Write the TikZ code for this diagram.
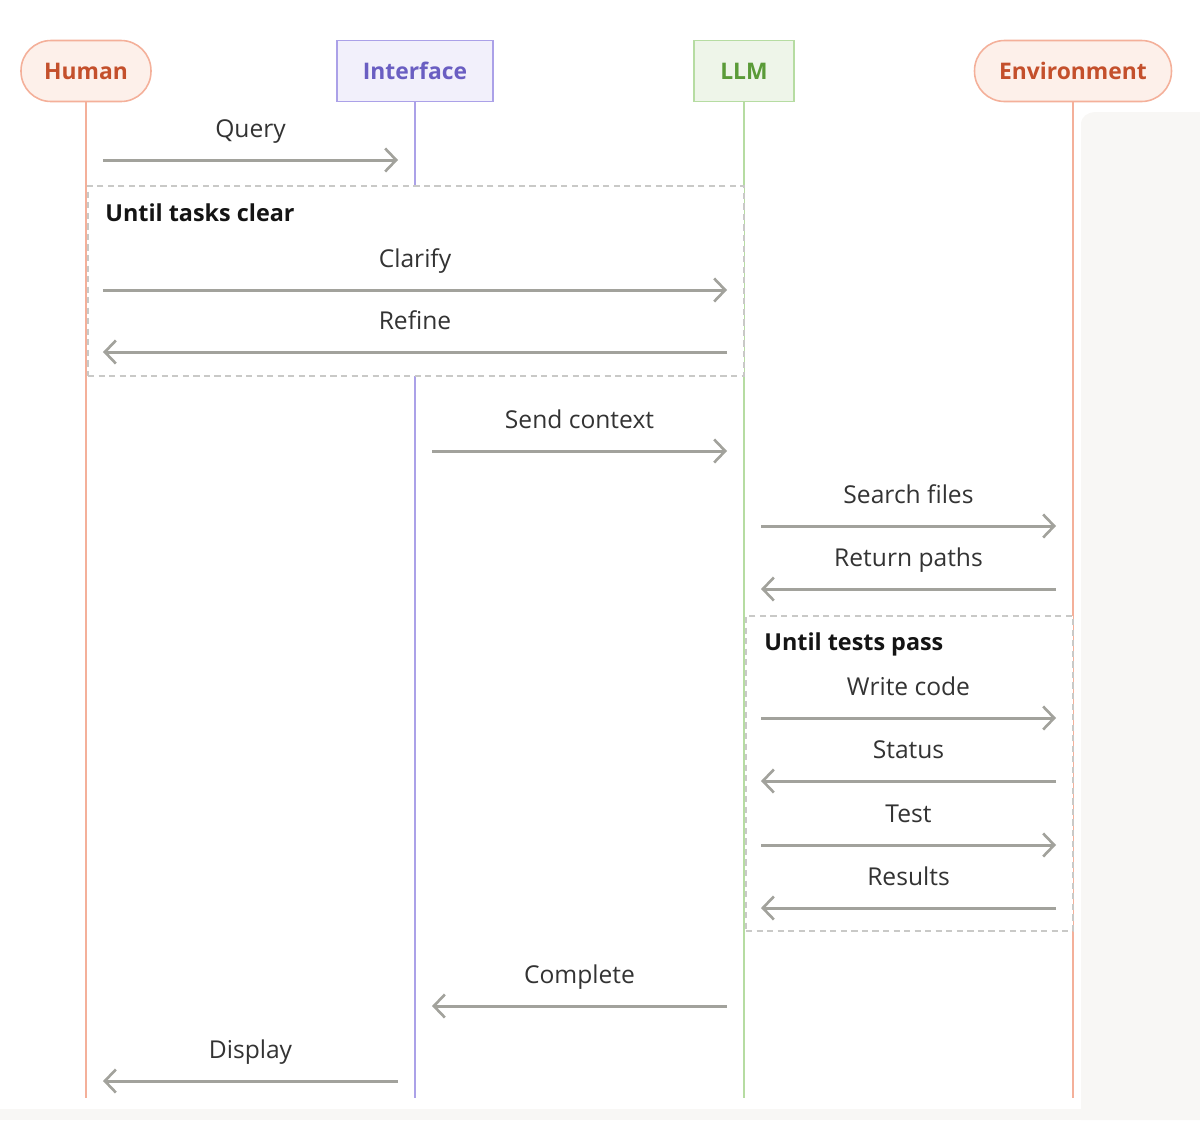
\documentclass[tikz,border=0pt]{standalone}
\usepackage{fontspec}
\setmainfont{Open Sans}[Ligatures=NoCommon]
\usetikzlibrary{arrows.meta,positioning,calc,backgrounds}
\definecolor{humantext}{HTML}{C4502C}
\definecolor{humanfill}{HTML}{FDF0EA}
\definecolor{humanline}{HTML}{F4B09A}
\definecolor{ifacetext}{HTML}{6A5EC2}
\definecolor{ifacefill}{HTML}{F2F0FB}
\definecolor{ifaceline}{HTML}{ABA1E8}
\definecolor{llmtext}{HTML}{5A9B38}
\definecolor{llmfill}{HTML}{EEF5E9}
\definecolor{llmline}{HTML}{B6DCA2}
\definecolor{msggray}{HTML}{A2A29C}
\definecolor{loopgray}{HTML}{C9C9C7}
\definecolor{paper}{HTML}{F8F7F5}
\tikzset{actor/.style={draw,line width=.9pt,minimum height=1.22cm,font=\fontsize{13}{15}\selectfont\bfseries,inner sep=2pt},pill/.style={actor,rounded corners=.6cm},lifeline/.style={line width=.8pt},msg/.style={-{Straight Barb[length=2.2mm,width=4.6mm,line width=1.5pt]},line width=1.7pt,msggray,shorten <=.34cm,shorten >=.34cm},msglabel/.style={midway,anchor=base,yshift=.45cm,text=black!80,font=\fontsize{14}{16}\selectfont},loopbox/.style={draw=loopgray,fill=white,line width=1.1pt,dash pattern=on 3.5pt off 2.5pt},looptitle/.style={anchor=base west,inner sep=0pt,text=black!92,font=\fontsize{13.3}{15}\selectfont\bfseries}}

\begin{document}
\begin{tikzpicture}[x=0.02cm,y=-0.02cm]
\useasboundingbox (0,0) rectangle (1200,1120);
\fill[paper] (1081,1120) -- (1081,124) to[out=90,in=180] (1095,112) -- (1200,112) -- (1200,1120) -- cycle;
\fill[paper] (0,1109) rectangle (1200,1120);
% participants
\node[pill,draw=humanline,fill=humanfill,text=humantext,minimum width=2.6cm] (human) at (86,71) {Human};
\node[actor,draw=ifaceline,fill=ifacefill,text=ifacetext,minimum width=3.12cm] (iface) at (415,71) {Interface};
\node[actor,draw=llmline,fill=llmfill,text=llmtext,minimum width=2cm] (llm) at (744,71) {LLM};
\node[pill,draw=humanline,fill=humanfill,text=humantext,minimum width=3.94cm] (env) at (1073,71) {Environment};
% lifelines
\foreach \who/\col in {human/humanline,iface/ifaceline,llm/llmline,env/humanline}
  \draw[lifeline,\col] (\who.south) -- (\who |- 0,1098);
% loops
\node[loopbox,minimum width=13.12cm,minimum height=3.8cm,anchor=north west] (loopA) at (87,185) {};
\node[looptitle] at (105,221) {Until tasks clear};
\node[loopbox,minimum width=6.54cm,minimum height=6.3cm,anchor=north west] (loopB) at (745,615) {};
\node[looptitle] at (764,650) {Until tests pass};
% messages
\foreach \y/\from/\to/\txt in {160/human/iface/Query,290/human/llm/Clarify,352/llm/human/Refine,451/iface/llm/Send context,526/llm/env/Search files,589/env/llm/Return paths,718/llm/env/Write code,781/env/llm/Status,845/llm/env/Test,908/env/llm/Results,1006/llm/iface/Complete,1081/iface/human/Display}
  \draw[msg] (\from |- 0,\y) -- node[msglabel] {\txt} (\to |- 0,\y);
\end{tikzpicture}
\end{document}
